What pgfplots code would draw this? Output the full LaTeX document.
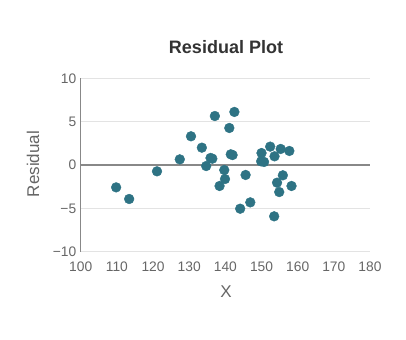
\documentclass[border=0pt]{standalone}
\usepackage{fontspec}
\setmainfont{Liberation Sans}
\usepackage{pgfplots}
\pgfplotsset{compat=1.18}
\definecolor{dot}{HTML}{2E7384}
\definecolor{tickc}{HTML}{666666}
\definecolor{axc}{HTML}{888888}
\definecolor{gridc}{HTML}{E3E3E3}
\definecolor{titlec}{HTML}{333333}
\begin{document}
\begin{tikzpicture}
\path[use as bounding box] (0,0) rectangle (406bp,340bp);
\begin{axis}[
  at={(80.7bp,88.3bp)}, anchor=south west,
  scale only axis, width=289.3bp, height=173.4bp,
  xmin=100, xmax=180, ymin=-10, ymax=10,
  xtick={100,110,...,180},
  ytick={-10,-5,0,5,10},
  yticklabels={−10,−5,0,5,10},
  /pgf/number format/assume math mode=true,
  major tick length=0pt,
  separate axis lines,
  x axis line style={draw=none},
  y axis line style={draw=axc, line width=1.5bp},
  axis x line*=bottom, axis y line*=left,
  ymajorgrids, grid style={draw=gridc, line width=0.8bp},
  tick label style={font=\fontsize{13.8bp}{16bp}\selectfont, text=tickc},
  xticklabel style={yshift=-7bp},
  yticklabel style={xshift=-1bp},
  clip=false,
]
\draw[axc, line width=1.5bp] (axis cs:100,0) -- (axis cs:180,0);
\addplot[only marks, mark=*, mark size=4.9bp, mark options={fill=dot, draw=dot}] coordinates {
(109.8,-2.58) (113.4,-3.92) (121.1,-0.73) (127.4,0.65) (130.5,3.31)
(133.5,2.0) (134.7,-0.12) (135.9,0.81) (136.4,0.73) (137.1,5.65)
(138.4,-2.42) (139.7,-0.58) (139.9,-1.62) (141.1,4.27) (141.5,1.23)
(142.0,1.15) (142.5,6.12) (144.1,-5.04) (145.6,-1.15) (146.9,-4.31)
(150.0,1.38) (149.9,0.42) (150.7,0.35) (152.4,2.12) (153.6,1.0)
(153.5,-5.92) (154.3,-2.04) (154.9,-3.12) (155.3,1.85) (155.9,-1.19)
(157.7,1.62) (158.3,-2.42)
};
\end{axis}
\node[font=\bfseries\fontsize{18bp}{20bp}\selectfont, text=titlec] at (226bp,293bp) {Residual Plot};
\node[font=\fontsize{17bp}{20bp}\selectfont, text=tickc, rotate=90] at (33bp,176bp) {Residual};
\node[font=\fontsize{17bp}{20bp}\selectfont, text=tickc] at (226bp,48.5bp) {X};
\end{tikzpicture}
\end{document}
